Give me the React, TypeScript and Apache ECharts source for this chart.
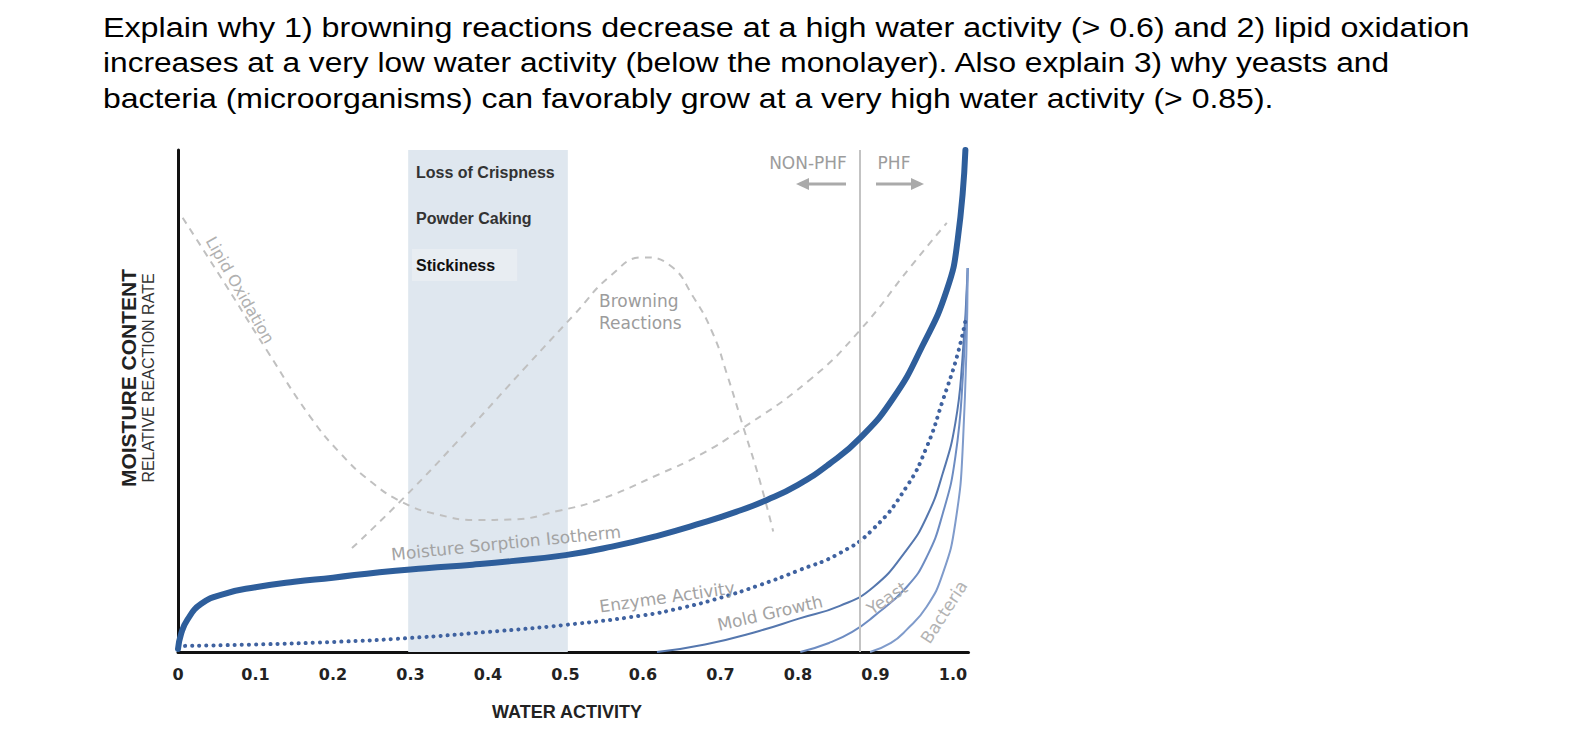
import React, { useEffect, useRef } from "react";
import * as echarts from "echarts";

// Water activity (x) vs. relative moisture content / reaction rate (y, 0–100)
const isotherm: [number, number][] = [
  [0, 0.6], [0.004, 3.6], [0.012, 6.4], [0.03, 9.6], [0.06, 11.6], [0.1, 12.9],
  [0.15, 14.0], [0.2, 14.8], [0.26, 15.9], [0.32, 16.7], [0.38, 17.4], [0.43, 18.1],
  [0.5, 19.3], [0.56, 21.0], [0.62, 23.2], [0.674, 25.6], [0.72, 27.9], [0.76, 30.3],
  [0.8, 33.3], [0.84, 37.4], [0.88, 42.6], [0.923, 50.6], [0.96, 60.8], [0.992, 72.1],
  [1.006, 82.1], [1.016, 100],
];

const enzymeActivity: [number, number][] = [
  [0, 1.2], [0.1, 1.5], [0.2, 2.0], [0.3, 2.8], [0.4, 4.0], [0.5, 5.4], [0.6, 7.3],
  [0.65, 8.8], [0.7, 10.8], [0.75, 13.3], [0.8, 16.2], [0.854, 19.7], [0.897, 24.5],
  [0.94, 32.9], [0.966, 40.8], [0.987, 50.2], [1.005, 58.8], [1.016, 66],
];

const moldGrowth: [number, number][] = [
  [0.618, 0], [0.68, 1.5], [0.75, 4.2], [0.8, 6.6], [0.854, 9.2], [0.897, 12.9],
  [0.94, 20.3], [0.966, 26.9], [0.987, 35.7], [1.003, 45.6], [1.012, 58], [1.019, 76.5],
];

const yeastGrowth: [number, number][] = [
  [0.803, 0], [0.84, 1.8], [0.87, 4.0], [0.897, 7.0], [0.94, 12.9], [0.966, 18.9],
  [0.987, 27.7], [1.003, 38.8], [1.013, 55.6], [1.019, 76.5],
];

const bacteriaGrowth: [number, number][] = [
  [0.893, 0], [0.92, 1.8], [0.94, 4.4], [0.966, 9.0], [0.987, 15.7], [1.003, 25.7],
  [1.013, 42.2], [1.019, 76.5],
];

const browningReactions: [number, number][] = [
  [0.2245, 20.7], [0.29, 30.5], [0.373, 44], [0.45, 57], [0.51, 67], [0.56, 75.2],
  [0.6, 78.6], [0.635, 77], [0.665, 70.7], [0.69, 63.5], [0.708, 55.5], [0.73, 44.5],
  [0.75, 34.5], [0.768, 24],
];

const lipidOxidation: [number, number][] = [
  [0.006, 86.5], [0.06, 73.5], [0.115, 60], [0.17, 47], [0.21, 39.5], [0.25, 33.8],
  [0.29, 29.8], [0.33, 27.6], [0.386, 26.3], [0.43, 26.4], [0.493, 28.2], [0.545, 30.4],
  [0.622, 35.5], [0.674, 39.3], [0.725, 44.2], [0.815, 54.2], [0.88, 64.1], [0.945, 76.7],
  [0.992, 85.5],
];

// Texture-problem zone and the PHF boundary, in water activity
const textureZone: [number, number] = [0.297, 0.503];
const phfBoundary = 0.88;

const xTicks = { min: 0, max: 1.02, interval: 0.1 };

const questionText = [
  "Explain why 1) browning reactions decrease at a high water activity (> 0.6) and 2) lipid oxidation",
  "increases at a very low water activity (below the monolayer). Also explain 3) why yeasts and",
  "bacteria (microorganisms) can favorably grow at a very high water activity (> 0.85).",
];
const questionStretch = [1.152, 1.131, 1.143];

const SANS = '"Liberation Sans", Arial, sans-serif';
const LABEL = '"DejaVu Sans", sans-serif';
const deg = (d: number) => (d * Math.PI) / 180;

function label(text: string, x: number, y: number, rot: number, fill: string, extra: any = {}) {
  return {
    type: "text",
    x,
    y,
    rotation: deg(rot),
    z: 50,
    silent: true,
    style: {
      text,
      fill,
      fontFamily: LABEL,
      fontSize: 17,
      align: "center",
      verticalAlign: "middle",
      ...extra,
    },
  };
}

export default function App() {
  const ref = useRef<HTMLDivElement>(null);

  useEffect(() => {
    document.body.style.margin = "0";
    const chart = echarts.init(ref.current!, undefined, { renderer: "svg" });
    const dashed = { type: [7, 6], width: 2, color: "#c0c0c0" };
    const lineBase = {
      type: "line",
      showSymbol: false,
      symbol: "none",
      smooth: 0.5,
      silent: true,
    };

    // question text above the chart, one element per line
    const questionLines = questionText.map((t, i) => ({
      type: "text",
      x: 103,
      y: 27 + i * 35.5,
      scaleX: questionStretch[i],
      silent: true,
      style: {
        text: t,
        fill: "#000",
        fontFamily: SANS,
        fontSize: 28,
        align: "left",
        verticalAlign: "middle",
      },
    }));

    chart.setOption({
      animation: false,
      grid: { left: 178, right: 615.5, top: 150, bottom: 104 },
      xAxis: {
        type: "value",
        min: xTicks.min,
        max: xTicks.max,
        interval: xTicks.interval,
        splitLine: { show: false },
        axisTick: { show: false },
        axisLine: { lineStyle: { color: "#111", width: 3 } },
        axisLabel: {
          margin: 14,
          color: "#222",
          fontFamily: LABEL,
          fontWeight: "bold",
          fontSize: 16,
          formatter: (v: number) => {
            const r = Math.round(v * 10);
            if (Math.abs(v * 10 - r) > 1e-6) return "";
            return r === 0 ? "0" : (r / 10).toFixed(1);
          },
        },
      },
      yAxis: {
        type: "value",
        min: 0,
        max: 100,
        splitLine: { show: false },
        axisTick: { show: false },
        axisLabel: { show: false },
        axisLine: { show: true, lineStyle: { color: "#111", width: 3 } },
      },
      series: [
        {
          type: "line",
          data: [],
          z: 1,
          silent: true,
          markArea: {
            silent: true,
            itemStyle: { color: "#dfe7ef" },
            data: [[{ xAxis: textureZone[0] }, { xAxis: textureZone[1] }]],
          },
          markLine: {
            silent: true,
            symbol: "none",
            label: { show: false },
            lineStyle: { color: "#c3c3c3", width: 2, type: "solid" },
            data: [{ xAxis: phfBoundary }],
          },
        },
        { ...lineBase, name: "Lipid Oxidation", z: 2, data: lipidOxidation, lineStyle: dashed },
        { ...lineBase, name: "Browning Reactions", z: 2, data: browningReactions, lineStyle: dashed },
        { ...lineBase, name: "Mold Growth", z: 3, data: moldGrowth, lineStyle: { width: 2, color: "#5577ae" } },
        { ...lineBase, name: "Yeast", z: 3, data: yeastGrowth, lineStyle: { width: 2, color: "#6d8cc2" } },
        { ...lineBase, name: "Bacteria", z: 3, data: bacteriaGrowth, lineStyle: { width: 2, color: "#7f9bcb" } },
        {
          ...lineBase,
          name: "Enzyme Activity",
          z: 4,
          data: enzymeActivity,
          lineStyle: { width: 4, color: "#3f62a0", type: [0.1, 7], cap: "round" },
        },
        {
          ...lineBase,
          name: "Moisture Sorption Isotherm",
          z: 5,
          data: isotherm,
          lineStyle: { width: 6, color: "#2e5e9b", cap: "round" },
        },
      ],
      graphic: [
        ...questionLines,
        // axis titles
        {
          type: "text", x: 128, y: 378, rotation: deg(90), silent: true,
          style: { text: "MOISTURE CONTENT", fill: "#222", fontFamily: SANS, fontWeight: "bold", fontSize: 21, align: "center", verticalAlign: "middle" },
        },
        {
          type: "text", x: 148, y: 378, rotation: deg(90), silent: true,
          style: { text: "RELATIVE REACTION RATE", fill: "#333", fontFamily: SANS, fontSize: 16, align: "center", verticalAlign: "middle" },
        },
        {
          type: "text", x: 567, y: 712, silent: true,
          style: { text: "WATER ACTIVITY", fill: "#222", fontFamily: SANS, fontWeight: "bold", fontSize: 18, align: "center", verticalAlign: "middle" },
        },
        // texture zone labels
        {
          type: "text", x: 416, y: 172, silent: true, z: 50,
          style: { text: "Loss of Crispness", fill: "#333", fontFamily: SANS, fontWeight: "bold", fontSize: 16, align: "left", verticalAlign: "middle" },
        },
        {
          type: "text", x: 416, y: 218, silent: true, z: 50,
          style: { text: "Powder Caking", fill: "#333", fontFamily: SANS, fontWeight: "bold", fontSize: 16, align: "left", verticalAlign: "middle" },
        },
        {
          type: "text", x: 412, y: 265, silent: true, z: 50,
          style: {
            text: "Stickiness", fill: "#111", fontFamily: SANS, fontWeight: "bold", fontSize: 16, align: "left", verticalAlign: "middle",
            backgroundColor: "#e8edf2", padding: [8, 22, 8, 4],
          },
        },
        // PHF boundary annotations
        label("NON-PHF", 808, 163, 0, "#9c9c9c"),
        label("PHF", 894, 163, 0, "#9c9c9c"),
        { type: "line", silent: true, shape: { x1: 846, y1: 184, x2: 806, y2: 184 }, style: { stroke: "#aaa", lineWidth: 3 } },
        { type: "polygon", silent: true, shape: { points: [[796, 184], [809, 178], [809, 190]] }, style: { fill: "#aaa" } },
        { type: "line", silent: true, shape: { x1: 876, y1: 184, x2: 913, y2: 184 }, style: { stroke: "#aaa", lineWidth: 3 } },
        { type: "polygon", silent: true, shape: { points: [[924, 184], [911, 178], [911, 190]] }, style: { fill: "#aaa" } },
        // curve labels
        label("Lipid Oxidation", 240, 290, -60, "#b0b0b0", { fontSize: 16 }),
        label("Browning", 599, 301, 0, "#9c9c9c", { align: "left" }),
        label("Reactions", 599, 323, 0, "#9c9c9c", { align: "left" }),
        label("Moisture Sorption Isotherm", 506, 543, 5.7, "#a3a3a3"),
        label("Enzyme Activity", 667, 597, 8, "#a3a3a3"),
        label("Mold Growth", 770, 613, 13, "#a3a3a3"),
        label("Yeast", 887, 598, 34, "#adadad"),
        label("Bacteria", 944, 612, 57, "#b3b3b3"),
      ],
    });

    return () => chart.dispose();
  }, []);

  return <div ref={ref} style={{ width: 1584, height: 756 }} />;
}
